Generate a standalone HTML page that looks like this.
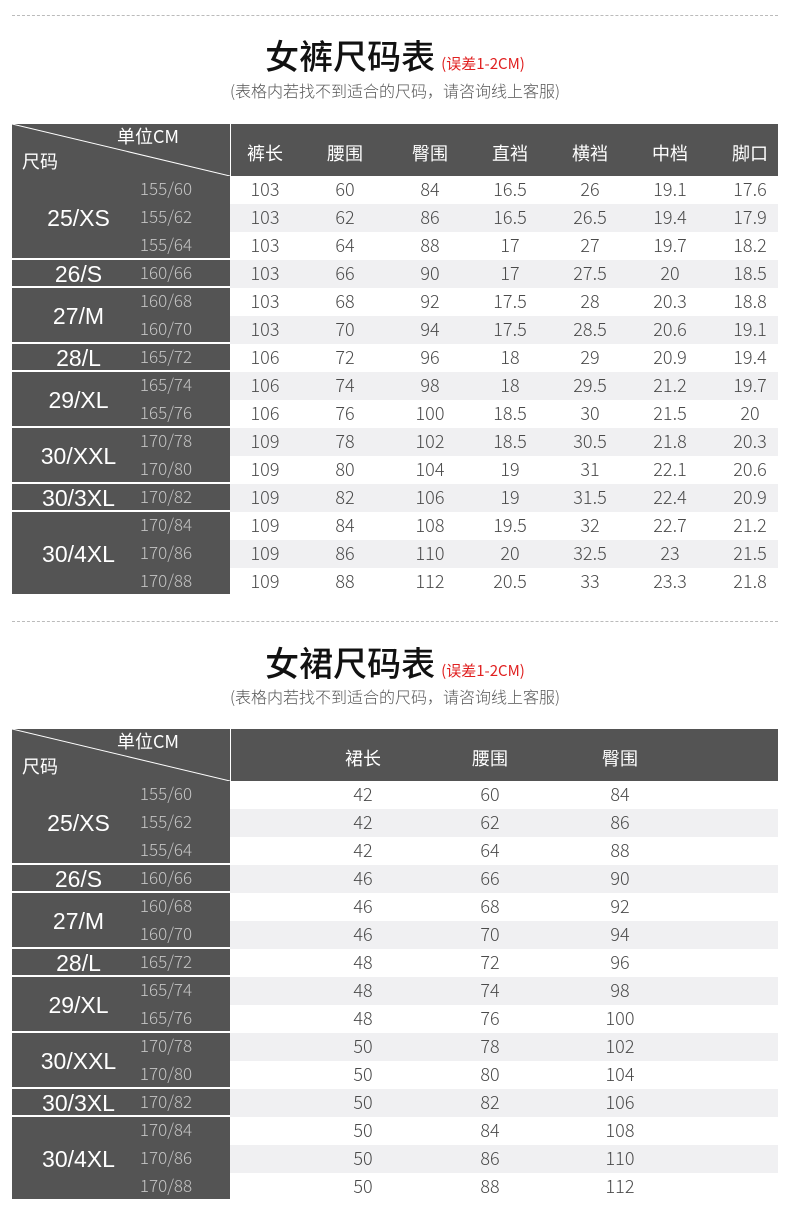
<!DOCTYPE html>
<html><head><meta charset="utf-8">
<style>
body{margin:0;width:790px;height:1230px;background:#fff;position:relative;overflow:hidden;font-family:"Liberation Sans","Noto Sans CJK SC",sans-serif;}
.abs{position:absolute;}
.dash{position:absolute;left:12px;width:766px;border-top:1px dashed #bbb;height:0;}
.title{position:absolute;left:0;width:790px;text-align:center;font-family:"Noto Sans CJK SC",sans-serif;font-size:34px;font-weight:500;color:#111;line-height:40px;}
.title span{font-size:15px;font-weight:400;color:#e02020;margin-left:6px;}
.sub{position:absolute;left:0;width:790px;text-align:center;font-family:"Noto Sans CJK SC",sans-serif;font-size:16px;color:#555;line-height:20px;font-weight:300;}
.hdr{position:absolute;background:#545454;}
.hc{position:absolute;color:#fff;font-family:"Noto Sans CJK SC",sans-serif;font-size:18px;transform:translateX(-50%);white-space:nowrap;}
.row{position:absolute;left:230px;width:548px;height:28px;}
.cell{position:absolute;color:#4a4a4a;font-family:"Noto Sans CJK SC",sans-serif;font-weight:300;font-size:18px;line-height:28px;transform:translateX(-50%);}
.grp{position:absolute;left:12px;width:218px;background:#545454;border-bottom:2px solid #fff;box-sizing:border-box;}
.gl{position:absolute;left:0;width:133px;text-align:center;color:#fff;font-size:23px;}
.ss{position:absolute;left:166px;color:#c4c4c4;font-family:"Noto Sans CJK SC",sans-serif;font-weight:300;font-size:17px;line-height:28px;transform:translateX(-50%);}
</style></head>
<body>
<div class="dash" style="top:15px"></div>
<div class="title" style="top:35px">女裤尺码表<span>(误差1-2CM)</span></div>
<div class="sub" style="top:80px">(表格内若找不到适合的尺码，请咨询线上客服)</div>
<div class="dash" style="top:621px"></div>
<div class="title" style="top:642px">女裙尺码表<span>(误差1-2CM)</span></div>
<div class="sub" style="top:686px">(表格内若找不到适合的尺码，请咨询线上客服)</div>
<div id="root"></div>
<script>
const groups=["25/XS","26/S","27/M","28/L","29/XL","30/XXL","30/3XL","30/4XL"];
const groupSpans=[3,1,2,1,2,2,1,3];
const subSizes=["155/60","155/62","155/64","160/66","160/68","160/70","165/72","165/74","165/76","170/78","170/80","170/82","170/84","170/86","170/88"];
const pantsCols=["裤长","腰围","臀围","直裆","横裆","中档","脚口"];
const pantsLen=["103","103","103","103","103","103","106","106","106","109","109","109","109","109","109"];
const pantsWaist=["60","62","64","66","68","70","72","74","76","78","80","82","84","86","88"];
const pantsHip=["84","86","88","90","92","94","96","98","100","102","104","106","108","110","112"];
const pantsRise=["16.5","16.5","17","17","17.5","17.5","18","18","18.5","18.5","19","19","19.5","20","20.5"];
const pantsThigh=["26","26.5","27","27.5","28","28.5","29","29.5","30","30.5","31","31.5","32","32.5","33"];
const pantsKnee=["19.1","19.4","19.7","20","20.3","20.6","20.9","21.2","21.5","21.8","22.1","22.4","22.7","23","23.3"];
const pantsHem=["17.6","17.9","18.2","18.5","18.8","19.1","19.4","19.7","20","20.3","20.6","20.9","21.2","21.5","21.8"];
const skirtCols=["裙长","腰围","臀围"];
const skirtLen=["42","42","42","46","46","46","48","48","48","50","50","50","50","50","50"];
const skirtWaist=["60","62","64","66","68","70","72","74","76","78","80","82","84","86","88"];
const skirtHip=["84","86","88","90","92","94","96","98","100","102","104","106","108","110","112"];

const root=document.getElementById('root');
function mk(cls,name,style,text){
  const d=document.createElement('div');
  d.className=cls;
  
  
  if(style)d.style.cssText=style;
  if(text!==undefined)d.textContent=text;
  root.appendChild(d);return d;
}
function table(prefix,top,cols,colX,series){
  mk('hdr',prefix+'-header-corner','left:12px;top:'+top+'px;width:218px;height:52px;');
  mk('hdr',prefix+'-header','left:231px;top:'+top+'px;width:547px;height:52px;');
  const svg=document.createElementNS('http://www.w3.org/2000/svg','svg');
  
  
  svg.setAttribute('width','218');svg.setAttribute('height','52');
  svg.style.cssText='position:absolute;left:12px;top:'+top+'px';
  svg.innerHTML='<line x1="0" y1="0" x2="218" y2="52" stroke="#fff" stroke-width="1"/>';
  root.appendChild(svg);
  mk('hc',prefix+'-unit-label','left:148px;top:'+(top-1)+'px;',"单位CM");
  mk('hc',prefix+'-size-label','left:40px;top:'+(top+24)+'px;',"尺码");
  mk('abs',prefix+'-header-line','left:12px;top:'+(top+52)+'px;width:218px;height:2px;background:#fff;');
  cols.forEach((c,i)=>mk('hc',prefix+'-col-'+i,'left:'+colX[i]+'px;top:'+(top+16)+'px;',c));
  const rt=top+52;
  subSizes.forEach((s,r)=>{
    const y=rt+r*28;
    mk('row',prefix+'-row-'+r,'top:'+y+'px;background:'+(r%2?'#f0f0f2':'#fff'));
    series.forEach((arr,i)=>mk('cell',prefix+'-cell','left:'+colX[i]+'px;top:'+(y-1)+'px;',arr[r]));
  });
  let acc=0;
  groups.forEach((g,i)=>{
    const y=rt+acc*28,h=groupSpans[i]*28;
    const d=mk('grp',prefix+'-group-'+g,'top:'+y+'px;height:'+h+'px;');
    const l=document.createElement('div');l.className='gl';
    
    
    l.style.top=(h/2-14)+'px';l.style.lineHeight='28px';l.textContent=g;d.appendChild(l);
    acc+=groupSpans[i];
  });
  subSizes.forEach((s,r)=>mk('ss',prefix+'-subsize','top:'+(rt+r*28-2)+'px;',s));
}
table('pants',124,pantsCols,[265,345,430,510,590,670,750],[pantsLen,pantsWaist,pantsHip,pantsRise,pantsThigh,pantsKnee,pantsHem]);
table('skirt',729,skirtCols,[363,490,620],[skirtLen,skirtWaist,skirtHip]);
</script>
</body></html>
